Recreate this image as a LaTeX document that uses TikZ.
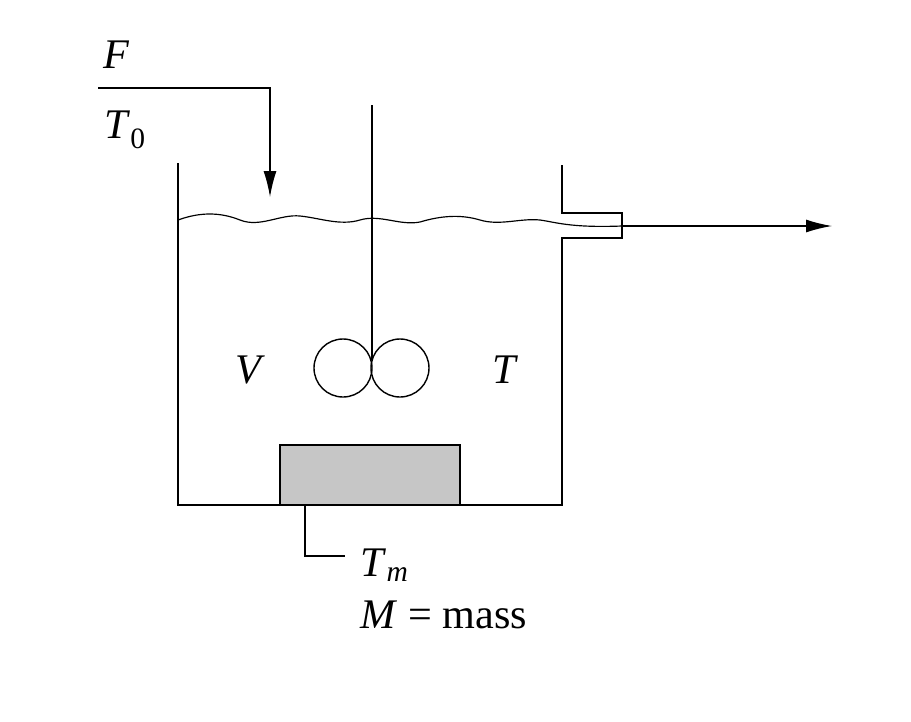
\documentclass[tikz,border=0pt]{standalone}
\usepackage{fontspec}
\setmainfont{Liberation Serif}
\begin{document}
\begin{tikzpicture}[x=0.03cm,y=-0.03cm,line width=1.2pt,
  lbl/.style={inner sep=0pt,font=\fontsize{36}{42}\selectfont},
  tip/.style={-{Latex[length=22pt,width=11pt]}}]
\useasboundingbox (0,0) rectangle (911,722);
\usetikzlibrary{arrows.meta}
% tank
\draw (178,163) -- (178,505) -- (562,505) -- (562,238) -- (622,238) -- (622,213) -- (562,213) -- (562,165);
% liquid surface
\draw[line width=1pt] (178,220) .. controls (200,212) and (220,212) .. (240,220) .. controls (260,228) and (280,214) .. (300,216)
 .. controls (320,218) and (340,226) .. (360,220) .. controls (380,214) and (400,226) .. (420,222) .. controls (440,216) and (460,214) .. (480,220)
 .. controls (500,226) and (520,218) .. (540,220) .. controls (555,222) and (570,228) .. (622,226);
% outlet
\coordinate (outS) at (622,226);
\coordinate (outE) at (832,226);
\draw[tip] (outS) -- (outE);
% inlet
\coordinate (inS) at (98,88);
\coordinate (inC) at (270,88);
\coordinate (inE) at (270,197);
\draw[tip] (inS) -- (inC) -- (inE);
% stirrer
\draw (372,105) -- (372,360);
\draw (343,368) circle (29);
\draw (400,368) circle (29);
% metal block
\draw[fill=gray!45] (280,445) rectangle (460,505);
\draw (305,505) -- (305,556) -- (345,556);
% labels
\node[lbl] (F) at (117,55) {\textit{F}};
\node[lbl] (T0) at (125,130) {\textit{T}\textsubscript{0}};
\node[lbl] (V) at (250,370) {\textit{V}};
\node[lbl] (T) at (505,370) {\textit{T}};
\node[lbl,anchor=west] (Tm) at (360,565) {\textit{T}\textsubscript{\textit{m}}};
\node[lbl,anchor=west] (M) at (360,615) {\textit{M} = mass};
\end{tikzpicture}
\end{document}
